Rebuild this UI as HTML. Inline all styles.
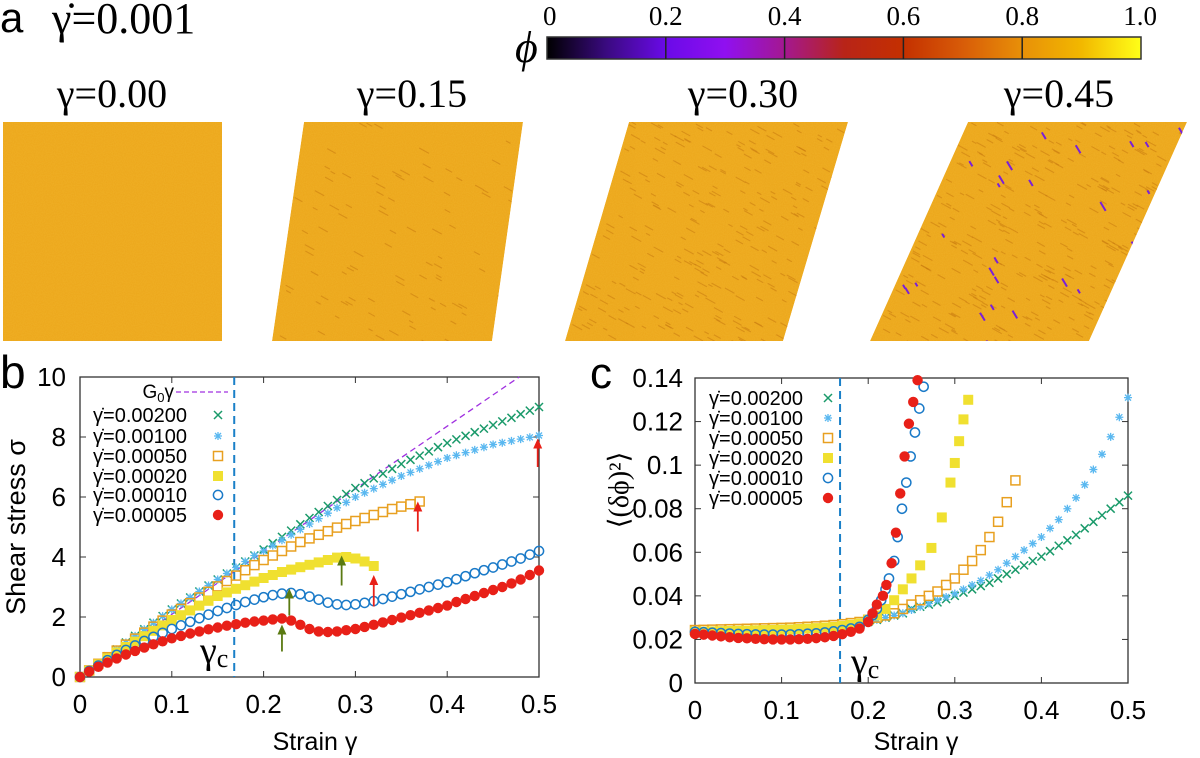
<!DOCTYPE html>
<html><head><meta charset="utf-8">
<style>
html,body{margin:0;padding:0;background:#fff;}
svg{display:block;}
.sans{font-family:"Liberation Sans",sans-serif;}
.serif{font-family:"Liberation Serif",serif;}
</style></head>
<body>
<svg id="fig" width="1200" height="758" viewBox="0 0 1200 758" xmlns="http://www.w3.org/2000/svg">
<defs>
<linearGradient id="cbar" x1="0" x2="1" y1="0" y2="0">
<stop offset="0" stop-color="#000000"/>
<stop offset="0.1" stop-color="#3a0a80"/>
<stop offset="0.2" stop-color="#6a0ae8"/>
<stop offset="0.3" stop-color="#9010f0"/>
<stop offset="0.4" stop-color="#a41890"/>
<stop offset="0.5" stop-color="#b82418"/>
<stop offset="0.6" stop-color="#c43000"/>
<stop offset="0.7" stop-color="#d85c08"/>
<stop offset="0.8" stop-color="#e89008"/>
<stop offset="0.9" stop-color="#f2b800"/>
<stop offset="1" stop-color="#ffff18"/>
</linearGradient>
<filter id="noise" x="0" y="0" width="100%" height="100%">
<feTurbulence type="fractalNoise" baseFrequency="0.9" numOctaves="1" seed="3" result="t"/>
<feColorMatrix type="matrix" values="0 0 0 0 0.95  0 0 0 0 0.72  0 0 0 0 0.1  0 0 0 0.35 0" result="n"/>
<feComposite in="n" in2="SourceGraphic" operator="in"/>
</filter>
</defs>

<text font-family="Liberation Sans, sans-serif" x="0" y="32" font-size="42">a</text>
<text font-family="Liberation Serif, serif" x="52" y="33" font-size="44">γ̇=0.001</text>
<text font-family="Liberation Serif, serif" x="515" y="62" font-size="44" font-style="italic">ϕ</text>
<g id="colorbar"></g>
<g id="panels"></g>

<text font-family="Liberation Sans, sans-serif" x="0" y="388" font-size="46">b</text>
<g id="chartB"></g>

<text font-family="Liberation Sans, sans-serif" x="590" y="388" font-size="44">c</text>
<g id="chartC"></g>
</svg>

<script>
// ---------------- data: panel b (shear stress) ----------------
var bStrainStep = 0.01;
var bGreen = [0,0.23,0.46,0.69,0.92,1.15,1.37,1.59,1.81,2.03,2.25,2.45,2.65,2.85,3.05,3.25,3.45,3.65,3.85,4.05,4.25,4.46,4.67,4.88,5.09,5.3,5.5,5.7,5.9,6.1,6.3,6.46,6.62,6.78,6.94,7.1,7.24,7.38,7.52,7.66,7.8,7.92,8.04,8.16,8.28,8.4,8.52,8.64,8.76,8.88,9.0];
var bLightBlue = [0,0.23,0.46,0.69,0.92,1.15,1.37,1.59,1.81,2.03,2.25,2.45,2.65,2.85,3.05,3.25,3.45,3.65,3.85,4.05,4.2,4.38,4.56,4.74,4.92,5.1,5.28,5.46,5.64,5.82,6.0,6.14,6.28,6.42,6.56,6.7,6.82,6.94,7.06,7.18,7.3,7.39,7.48,7.57,7.66,7.75,7.81,7.87,7.93,7.99,8.05];
var bOrange = [0,0.22,0.44,0.66,0.88,1.08,1.28,1.48,1.68,1.88,2.08,2.27,2.46,2.65,2.84,3.02,3.2,3.38,3.56,3.73,3.9,4.05,4.2,4.35,4.5,4.62,4.74,4.86,4.98,5.1,5.2,5.3,5.4,5.5,5.6,5.68,5.76,5.85];
var bYellow = [0,0.21,0.42,0.62,0.82,1.0,1.18,1.36,1.54,1.72,1.9,2.06,2.22,2.38,2.54,2.7,2.82,2.94,3.06,3.18,3.3,3.4,3.5,3.58,3.66,3.74,3.82,3.9,3.98,4.0,3.95,3.85,3.7];
var bBlue = [0,0.2,0.38,0.56,0.74,0.9,1.05,1.2,1.34,1.47,1.6,1.72,1.84,1.96,2.08,2.2,2.3,2.4,2.5,2.58,2.66,2.73,2.78,2.8,2.76,2.68,2.58,2.48,2.42,2.4,2.42,2.47,2.53,2.6,2.68,2.76,2.84,2.92,3.0,3.08,3.16,3.26,3.36,3.46,3.56,3.65,3.75,3.85,3.95,4.08,4.2];
var bRed = [0,0.18,0.34,0.48,0.62,0.75,0.87,0.98,1.09,1.19,1.29,1.37,1.45,1.52,1.59,1.65,1.71,1.76,1.81,1.85,1.88,1.92,1.95,1.88,1.74,1.6,1.52,1.5,1.52,1.56,1.6,1.67,1.74,1.82,1.9,1.98,2.06,2.14,2.22,2.3,2.38,2.5,2.6,2.7,2.8,2.9,3.0,3.12,3.25,3.4,3.55];
var bG0 = 20.9;
var bXTicks = ["0","0.1","0.2","0.3","0.4","0.5"];
var bYTicks = ["0","2","4","6","8","10"];
var bGreenArrows = [[0.22,0.85,1.75],[0.228,2.05,2.95],[0.285,3.05,4.05]];
var bRedArrows = [[0.32,2.35,3.4],[0.368,4.85,5.85],[0.4986,7.0,7.95]];

// ---------------- data: panel c (fluctuations) ----------------
var cFlat = [0.024,0.024,0.0241,0.0242,0.0243,0.0244,0.0245,0.0246,0.0247,0.0248,0.0249,0.025,0.0251,0.0253,0.0255,0.0257,0.026,0.0264,0.0268,0.0273];
var cGreen = cFlat.concat([0.028,0.029,0.030,0.031,0.032,0.034,0.035,0.036,0.037,0.0385,0.040,0.0415,0.043,0.0445,0.046,0.048,0.050,0.052,0.054,0.056,0.058,0.0605,0.063,0.0655,0.068,0.071,0.074,0.077,0.080,0.083,0.086]);
var cLightBlue = cFlat.concat([0.028,0.029,0.030,0.031,0.032,0.0335,0.035,0.0365,0.038,0.0395,0.041,0.043,0.045,0.047,0.0495,0.052,0.055,0.058,0.061,0.064,0.067,0.071,0.075,0.080,0.085,0.091,0.098,0.105,0.113,0.122,0.131]);
var cOrange = [0.0243,0.0244,0.0245,0.0246,0.0247,0.0248,0.0249,0.025,0.0251,0.0252,0.0253,0.0254,0.0256,0.0258,0.026,0.0263,0.0266,0.027,0.0275,0.028,0.029,0.030,0.031,0.032,0.034,0.036,0.038,0.040,0.042,0.045,0.048,0.052,0.056,0.061,0.067,0.074,0.083,0.093];
var cYellowX = [0,0.01,0.02,0.03,0.04,0.05,0.06,0.07,0.08,0.09,0.1,0.11,0.12,0.13,0.14,0.15,0.16,0.17,0.18,0.19,0.2,0.21,0.22,0.23,0.24,0.25,0.26,0.273,0.285,0.295,0.3,0.305,0.31,0.3155];
var cYellowY = [0.0236,0.0236,0.0237,0.0238,0.0239,0.024,0.0241,0.0242,0.0243,0.0244,0.0245,0.0246,0.0248,0.025,0.0252,0.0255,0.0258,0.0262,0.0267,0.0273,0.029,0.031,0.034,0.038,0.043,0.048,0.054,0.062,0.076,0.092,0.101,0.111,0.121,0.130];
var cBlueX = [0,0.01,0.02,0.03,0.04,0.05,0.06,0.07,0.08,0.09,0.1,0.11,0.12,0.13,0.14,0.15,0.16,0.17,0.18,0.19,0.2,0.205,0.21,0.215,0.22,0.224,0.23,0.234,0.239,0.244,0.249,0.254,0.259,0.264];
var cBlueY = [0.0235,0.0233,0.0231,0.0229,0.0227,0.0225,0.0224,0.0223,0.0222,0.0222,0.0222,0.0223,0.0224,0.0226,0.0228,0.0232,0.0237,0.0243,0.025,0.0258,0.029,0.031,0.034,0.038,0.043,0.048,0.056,0.067,0.080,0.092,0.104,0.115,0.126,0.136];
var cRedX = [0,0.01,0.02,0.03,0.04,0.05,0.06,0.07,0.08,0.09,0.1,0.11,0.12,0.13,0.14,0.15,0.16,0.17,0.18,0.19,0.2,0.205,0.21,0.217,0.221,0.227,0.232,0.237,0.242,0.247,0.252,0.257];
var cRedY = [0.0225,0.0222,0.0218,0.0214,0.021,0.0207,0.0205,0.0203,0.0201,0.02,0.02,0.02,0.0201,0.0203,0.0206,0.021,0.0216,0.0224,0.0235,0.025,0.028,0.032,0.036,0.040,0.045,0.055,0.069,0.087,0.104,0.119,0.129,0.139];
var cXTicks = ["0","0.1","0.2","0.3","0.4","0.5"];
var cYTicks = ["0","0.02","0.04","0.06","0.08","0.1","0.12","0.14"];
var cYTickVals = [0,0.02,0.04,0.06,0.08,0.1,0.12,0.14];

var legendRates = ["0.00200","0.00100","0.00050","0.00020","0.00010","0.00005"];
var colorbarTicks = ["0","0.2","0.4","0.6","0.8","1.0"];

var NS = "http://www.w3.org/2000/svg";
var SANS = "Liberation Sans, sans-serif", SERIF = "Liberation Serif, serif";
function mk(parent, tag, attrs, text){
  var e = document.createElementNS(NS, tag);
  for (var k in attrs) e.setAttribute(k, attrs[k]);
  if (text !== undefined) e.textContent = text;
  parent.appendChild(e);
  return e;
}
var COL = {green:"#1a9a6a", lblue:"#5ab8f0", orange:"#e8a020", yellow:"#f0e030", blue:"#1a7ac8", red:"#e82018"};

function marker(g, type, x, y){
  var m;
  if (type === "x"){
    m = mk(g, "path", {d:"M"+(x-4)+" "+(y-4)+"L"+(x+4)+" "+(y+4)+"M"+(x-4)+" "+(y+4)+"L"+(x+4)+" "+(y-4), stroke:COL.green, "stroke-width":1.5, fill:"none"});
  } else if (type === "star"){
    m = mk(g, "path", {d:"M"+(x-4)+" "+y+"L"+(x+4)+" "+y+"M"+x+" "+(y-4)+"L"+x+" "+(y+4)+"M"+(x-3)+" "+(y-3)+"L"+(x+3)+" "+(y+3)+"M"+(x-3)+" "+(y+3)+"L"+(x+3)+" "+(y-3), stroke:COL.lblue, "stroke-width":1.3, fill:"none"});
  } else if (type === "osq"){
    m = mk(g, "rect", {x:x-4.5, y:y-4.5, width:9, height:9, fill:"none", stroke:COL.orange, "stroke-width":1.5});
  } else if (type === "fsq"){
    m = mk(g, "rect", {x:x-5, y:y-5, width:10, height:10, fill:COL.yellow});
  } else if (type === "oc"){
    m = mk(g, "circle", {cx:x, cy:y, r:4.6, fill:"none", stroke:COL.blue, "stroke-width":1.5});
  } else {
    m = mk(g, "circle", {cx:x, cy:y, r:5.2, fill:COL.red});
  }
  
  
  return m;
}

// ---------------- colorbar ----------------
(function(){
  var g = document.getElementById("colorbar");
  var x0 = 547, x1 = 1141, y0 = 37, h = 22;
  var r = mk(g, "rect", {x:x0, y:y0, width:x1-x0, height:h, fill:"url(#cbar)", stroke:"#333", "stroke-width":1.5});
  
  
  for (var i=0;i<colorbarTicks.length;i++){
    var x = x0 + (x1-x0)*i/(colorbarTicks.length-1);
    if (i>0 && i<colorbarTicks.length-1){
      var l = mk(g, "line", {x1:x, x2:x, y1:y0, y2:y0+h, stroke:"#222", "stroke-width":1.5});
      
      
    }
    var t = mk(g, "text", {x:x, y:25, "font-size":27, "text-anchor":(i===colorbarTicks.length-1?"end":(i===0?"start":"middle")), "font-family":SERIF}, colorbarTicks[i]);
    if (i===colorbarTicks.length-1) t.setAttribute("x", x+16);
    if (i===0) t.setAttribute("x", x-4);
    
    
  }
})();

// ---------------- snapshot panels ----------------
(function(){
  var g = document.getElementById("panels");
  var panels = [
    {tl:3, tr:222, bl:3, br:222, title:"γ=0.00", cx:112, streaks:0, purple:0},
    {tl:304, tr:523, bl:272, br:492, title:"γ=0.15", cx:412, streaks:90, purple:0},
    {tl:629, tr:848, bl:565, br:783, title:"γ=0.30", cx:743, streaks:260, purple:0},
    {tl:968, tr:1187, bl:870, br:1089, title:"γ=0.45", cx:1059, streaks:320, purple:26}
  ];
  var seed = 12345;
  function rnd(){ seed = (seed*1103515245 + 12345) % 2147483648; return seed/2147483648; }
  var yt = 122, yb = 341;
  panels.forEach(function(p, idx){
    var t = mk(g, "text", {x:p.cx, y:107, "font-size":40, "text-anchor":"middle", "font-family":SERIF}, p.title);
    
    
    var pts = p.tl+","+yt+" "+p.tr+","+yt+" "+p.br+","+yb+" "+p.bl+","+yb;
    var cp = mk(g, "clipPath", {id:"clip"+idx});
    mk(cp, "polygon", {points:pts});
    var sg = mk(g, "g", {"clip-path":"url(#clip"+idx+")"});
    
    
    mk(sg, "polygon", {points:pts, fill:"#eca51a"});
    mk(sg, "polygon", {points:pts, fill:"#f5c030", filter:"url(#noise)", opacity:0.6});
    for (var i=0;i<p.streaks;i++){
      var v = rnd(), u = rnd();
      var y = yt + v*(yb-yt);
      var xl = p.tl + (p.bl-p.tl)*v, xr = p.tr + (p.br-p.tr)*v;
      var x = xl + u*(xr-xl);
      var len = 4 + rnd()*6;
      mk(sg, "line", {x1:x, y1:y, x2:x+len, y2:y+len*0.55, stroke:"#c87a10", "stroke-width":1.1, opacity:0.55});
    }
    for (var j=0;j<p.purple;j++){
      var v2 = rnd(), u2 = rnd();
      var y2 = yt + v2*(yb-yt);
      var xl2 = p.tl + (p.bl-p.tl)*v2, xr2 = p.tr + (p.br-p.tr)*v2;
      var x2 = xl2 + u2*(xr2-xl2);
      var len2 = 3 + rnd()*6;
      mk(sg, "line", {x1:x2, y1:y2, x2:x2+len2*0.6, y2:y2+len2, stroke:"#7a20d8", "stroke-width":2});
    }
  });
})();

// ---------------- chart b ----------------
(function(){
  var g = document.getElementById("chartB");
  var L=80, R=539, T=377, B=677;
  function X(v){ return L + (R-L)*v/0.5; }
  function Y(v){ return B - (B-T)*v/10; }
  var f = mk(g, "rect", {x:L, y:T, width:R-L, height:B-T, fill:"none", stroke:"#333", "stroke-width":1.3});
  
  
  for (var i=0;i<bXTicks.length;i++){
    var v = parseFloat(bXTicks[i]), x = X(v);
    mk(g, "line", {x1:x, x2:x, y1:B, y2:B-6, stroke:"#333"});
    mk(g, "line", {x1:x, x2:x, y1:T, y2:T+6, stroke:"#333"});
    var t = mk(g, "text", {x:x, y:713, "font-size":26, "text-anchor":"middle", "font-family":SANS}, bXTicks[i]);
    
    
  }
  for (var j=0;j<bYTicks.length;j++){
    var vy = parseFloat(bYTicks[j]), y = Y(vy);
    mk(g, "line", {x1:L, x2:L+6, y1:y, y2:y, stroke:"#333"});
    mk(g, "line", {x1:R, x2:R-6, y1:y, y2:y, stroke:"#333"});
    var ty = mk(g, "text", {x:66, y:y+9, "font-size":26, "text-anchor":"end", "font-family":SANS}, bYTicks[j]);
    
    
  }
  var xt = mk(g, "text", {x:315, y:750, "font-size":25, "text-anchor":"middle", "font-family":SANS}, "Strain  γ");
  
  
  var yt = mk(g, "text", {x:0, y:0, "font-size":27, "text-anchor":"middle", "font-family":SANS, transform:"translate(25,527) rotate(-90)"}, "Shear stress  σ");
  
  
  var gx = 10/bG0;
  var gl = mk(g, "line", {x1:X(0), y1:Y(0), x2:X(gx), y2:Y(10), stroke:"#a030e0", "stroke-width":1.3, "stroke-dasharray":"6,4"});
  
  
  var gc = mk(g, "line", {x1:X(0.168), x2:X(0.168), y1:T, y2:B, stroke:"#1a80c8", "stroke-width":2, "stroke-dasharray":"8,5"});
  
  
  var gct = mk(g, "text", {x:200, y:663, "font-size":38, "font-family":SERIF});
  gct.textContent = "γ";
  mk(gct, "tspan", {"font-size":26, dy:4}, "c");
  
  
  function series(arr, type, name){
    var sg = mk(g, "g", {});
    
    
    for (var k=0;k<arr.length;k++) marker(sg, type, X(k*bStrainStep), Y(arr[k]));
  }
  series(bGreen, "x", "series-0.00200");
  series(bLightBlue, "star", "series-0.00100");
  series(bOrange, "osq", "series-0.00050");
  series(bYellow, "fsq", "series-0.00020");
  series(bBlue, "oc", "series-0.00010");
  series(bRed, "fc", "series-0.00005");
  function arrow(a, col, name){
    var x = X(a[0]), y1 = Y(a[1]), y2 = Y(a[2]);
    var ag = mk(g, "g", {});
    
    
    mk(ag, "line", {x1:x, x2:x, y1:y1, y2:y2+8, stroke:col, "stroke-width":1.8});
    mk(ag, "polygon", {points:(x-4.5)+","+(y2+10)+" "+(x+4.5)+","+(y2+10)+" "+x+","+y2, fill:col});
  }
  bGreenArrows.forEach(function(a){ arrow(a, "#5a7a12", "peak-arrow"); });
  bRedArrows.forEach(function(a){ arrow(a, "#e82018", "failure-arrow"); });
  var lg = mk(g, "g", {});
  
  
  var g0t = mk(lg, "text", {x:174, y:398, "font-size":19, "text-anchor":"end", "font-family":SANS}, "G");
  mk(g0t, "tspan", {"font-size":13, dy:4}, "0");
  mk(g0t, "tspan", {dy:-4}, "γ");
  
  
  mk(lg, "line", {x1:176, x2:228, y1:392, y2:392, stroke:"#a030e0", "stroke-width":1.3, "stroke-dasharray":"5,3"});
  var types = ["x","star","osq","fsq","oc","fc"];
  var ly = [415,436,456,476,495,515];
  for (var q=0;q<legendRates.length;q++){
    var lt = mk(lg, "text", {x:187, y:ly[q]+7, "font-size":20, "text-anchor":"end", "font-family":SANS}, "γ̇="+legendRates[q]);
    
    
    marker(lg, types[q], 218, ly[q]);
  }
})();

// ---------------- chart c ----------------
(function(){
  var g = document.getElementById("chartC");
  var L=695, R=1128, T=378, B=683;
  function X(v){ return L + (R-L)*v/0.5; }
  function Y(v){ return B - (B-T)*v/0.14; }
  var f = mk(g, "rect", {x:L, y:T, width:R-L, height:B-T, fill:"none", stroke:"#333", "stroke-width":1.3});
  
  
  for (var i=0;i<cXTicks.length;i++){
    var v = parseFloat(cXTicks[i]), x = X(v);
    mk(g, "line", {x1:x, x2:x, y1:B, y2:B-6, stroke:"#333"});
    mk(g, "line", {x1:x, x2:x, y1:T, y2:T+6, stroke:"#333"});
    var t = mk(g, "text", {x:x, y:719, "font-size":26, "text-anchor":"middle", "font-family":SANS}, cXTicks[i]);
    
    
  }
  for (var j=0;j<cYTicks.length;j++){
    var y = Y(cYTickVals[j]);
    mk(g, "line", {x1:L, x2:L+6, y1:y, y2:y, stroke:"#333"});
    mk(g, "line", {x1:R, x2:R-6, y1:y, y2:y, stroke:"#333"});
    var ty = mk(g, "text", {x:683, y:y+9, "font-size":26, "text-anchor":"end", "font-family":SANS}, cYTicks[j]);
    
    
  }
  var xt = mk(g, "text", {x:916, y:750, "font-size":25, "text-anchor":"middle", "font-family":SANS}, "Strain  γ");
  
  
  var yt = mk(g, "text", {x:0, y:0, "font-size":28, "text-anchor":"middle", "font-family":SERIF, transform:"translate(628,490) rotate(-90)"}, "⟨(δϕ)²⟩");
  
  
  var gc = mk(g, "line", {x1:X(0.1675), x2:X(0.1675), y1:T, y2:B, stroke:"#1a80c8", "stroke-width":2, "stroke-dasharray":"8,5"});
  
  
  var gct = mk(g, "text", {x:851, y:674, "font-size":38, "font-family":SERIF});
  gct.textContent = "γ";
  mk(gct, "tspan", {"font-size":26, dy:4}, "c");
  
  
  function seriesStep(arr, type, name){
    var sg = mk(g, "g", {});
    
    
    for (var k=0;k<arr.length;k++) marker(sg, type, X(k*0.01), Y(arr[k]));
  }
  function seriesXY(xs, ys, type, name){
    var sg = mk(g, "g", {});
    
    
    for (var k=0;k<xs.length;k++) marker(sg, type, X(xs[k]), Y(ys[k]));
  }
  seriesStep(cGreen, "x", "series-0.00200");
  seriesStep(cLightBlue, "star", "series-0.00100");
  seriesStep(cOrange, "osq", "series-0.00050");
  seriesXY(cYellowX, cYellowY, "fsq", "series-0.00020");
  seriesXY(cBlueX, cBlueY, "oc", "series-0.00010");
  seriesXY(cRedX, cRedY, "fc", "series-0.00005");
  var lg = mk(g, "g", {});
  
  
  var types = ["x","star","osq","fsq","oc","fc"];
  var ly = [398,418,438,458,478,498];
  for (var q=0;q<legendRates.length;q++){
    var lt = mk(lg, "text", {x:803, y:ly[q]+7, "font-size":20, "text-anchor":"end", "font-family":SANS}, "γ̇="+legendRates[q]);
    
    
    marker(lg, types[q], 828, ly[q]);
  }
})();
</script>
</body></html>
